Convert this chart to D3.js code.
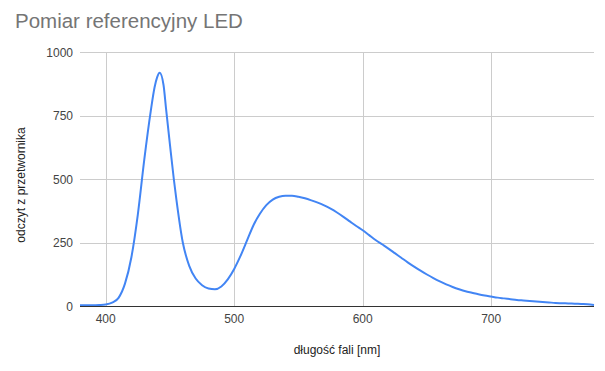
<!DOCTYPE html>
<html>
<head>
<meta charset="utf-8">
<script src="https://cdn.jsdelivr.net/npm/d3@7"></script>
<style>
  html, body { margin: 0; padding: 0; background: #fff; }
  svg { display: block; font-family: Arial, "Liberation Sans", sans-serif; }
</style>
</head>
<body>
<svg id="chart" width="605" height="371"></svg>
<script>
const title = "Pomiar referencyjny LED";
const xTitle = "długość fali [nm]";
const yTitle = "odczyt z przetwornika";
const xTicks = [400, 500, 600, 700];
const yTicks = [0, 250, 500, 750, 1000];

const wavelengths = [380,385,390,395,400,405,410,415,420,425,430,435,438,440,442,445,447,450,453,455,460,465,470,475,480,485,490,495,500,505,510,515,520,525,530,535,540,545,550,555,560,565,570,575,580,585,590,595,600,605,610,615,620,625,630,635,640,645,650,655,660,665,670,675,680,685,690,695,700,705,710,715,720,725,730,735,740,745,750,755,760,765,770,775,780];
const readings = [3,3,3,4,6,13,32,88,192,360,575,765,860,900,918,870,775,635,500,420,250,158,108,82,69,66,77,105,146,198,258,318,363,397,419,430,434,434,430,424,416,407,396,383,368,351,333,315,298,279,260,243,226,208,190,172,155,139,124,110,97,85,75,66,58,52,46,41,37,33,30,27,24,22,20,18,16,14,12,11,10,9,8,7,4];

const data = wavelengths.map((w, i) => ({ x: w, y: readings[i] }));

const svg = d3.select("#chart");
const pLeft = 80, pRight = 594, pTop = 52, pBottom = 306;

const x = d3.scaleLinear().domain([380, 780]).range([pLeft, pRight]);
const y = d3.scaleLinear().domain([0, 1000]).range([pBottom, pTop]);

// title
svg.append("text")
  .attr("x", 15).attr("y", 27.5)
  .attr("font-size", 20.5).attr("fill", "#757575")
  .text(title);

// horizontal gridlines
svg.append("g").selectAll("line").data(yTicks.filter(d => d !== 0)).join("line")
  .attr("x1", pLeft).attr("x2", pRight)
  .attr("y1", d => Math.round(y(d)) + 0.5).attr("y2", d => Math.round(y(d)) + 0.5)
  .attr("stroke", "#cccccc").attr("stroke-width", 1);

// vertical gridlines
svg.append("g").selectAll("line").data(xTicks).join("line")
  .attr("x1", d => Math.round(x(d)) + 0.5).attr("x2", d => Math.round(x(d)) + 0.5)
  .attr("y1", pTop).attr("y2", pBottom)
  .attr("stroke", "#cccccc").attr("stroke-width", 1);

// y tick labels
svg.append("g").selectAll("text").data(yTicks).join("text")
  .attr("x", 73).attr("y", d => y(d) + 4.5)
  .attr("text-anchor", "end").attr("font-size", 12).attr("fill", "#444")
  .text(d => d);

// x tick labels
svg.append("g").selectAll("text").data(xTicks).join("text")
  .attr("x", d => x(d)).attr("y", 323)
  .attr("text-anchor", "middle").attr("font-size", 12).attr("fill", "#444")
  .text(d => d);

// line
const line = d3.line().x(d => x(d.x)).y(d => y(d.y)).curve(d3.curveMonotoneX);
svg.append("path").datum(data)
  .attr("d", line)
  .attr("fill", "none").attr("stroke", "#4285F4").attr("stroke-width", 2)
  .attr("stroke-linejoin", "round");

// baseline (zero axis)
svg.append("line")
  .attr("x1", pLeft).attr("x2", pRight)
  .attr("y1", Math.round(y(0)) + 0.5).attr("y2", Math.round(y(0)) + 0.5)
  .attr("stroke", "#333").attr("stroke-width", 1);

// axis titles
svg.append("text")
  .attr("x", 337).attr("y", 354)
  .attr("text-anchor", "middle").attr("font-size", 12).attr("fill", "#222")
  .text(xTitle);

svg.append("text")
  .attr("transform", "translate(25,185) rotate(-90)")
  .attr("text-anchor", "middle").attr("font-size", 12).attr("fill", "#222")
  .text(yTitle);
</script>
</body>
</html>
